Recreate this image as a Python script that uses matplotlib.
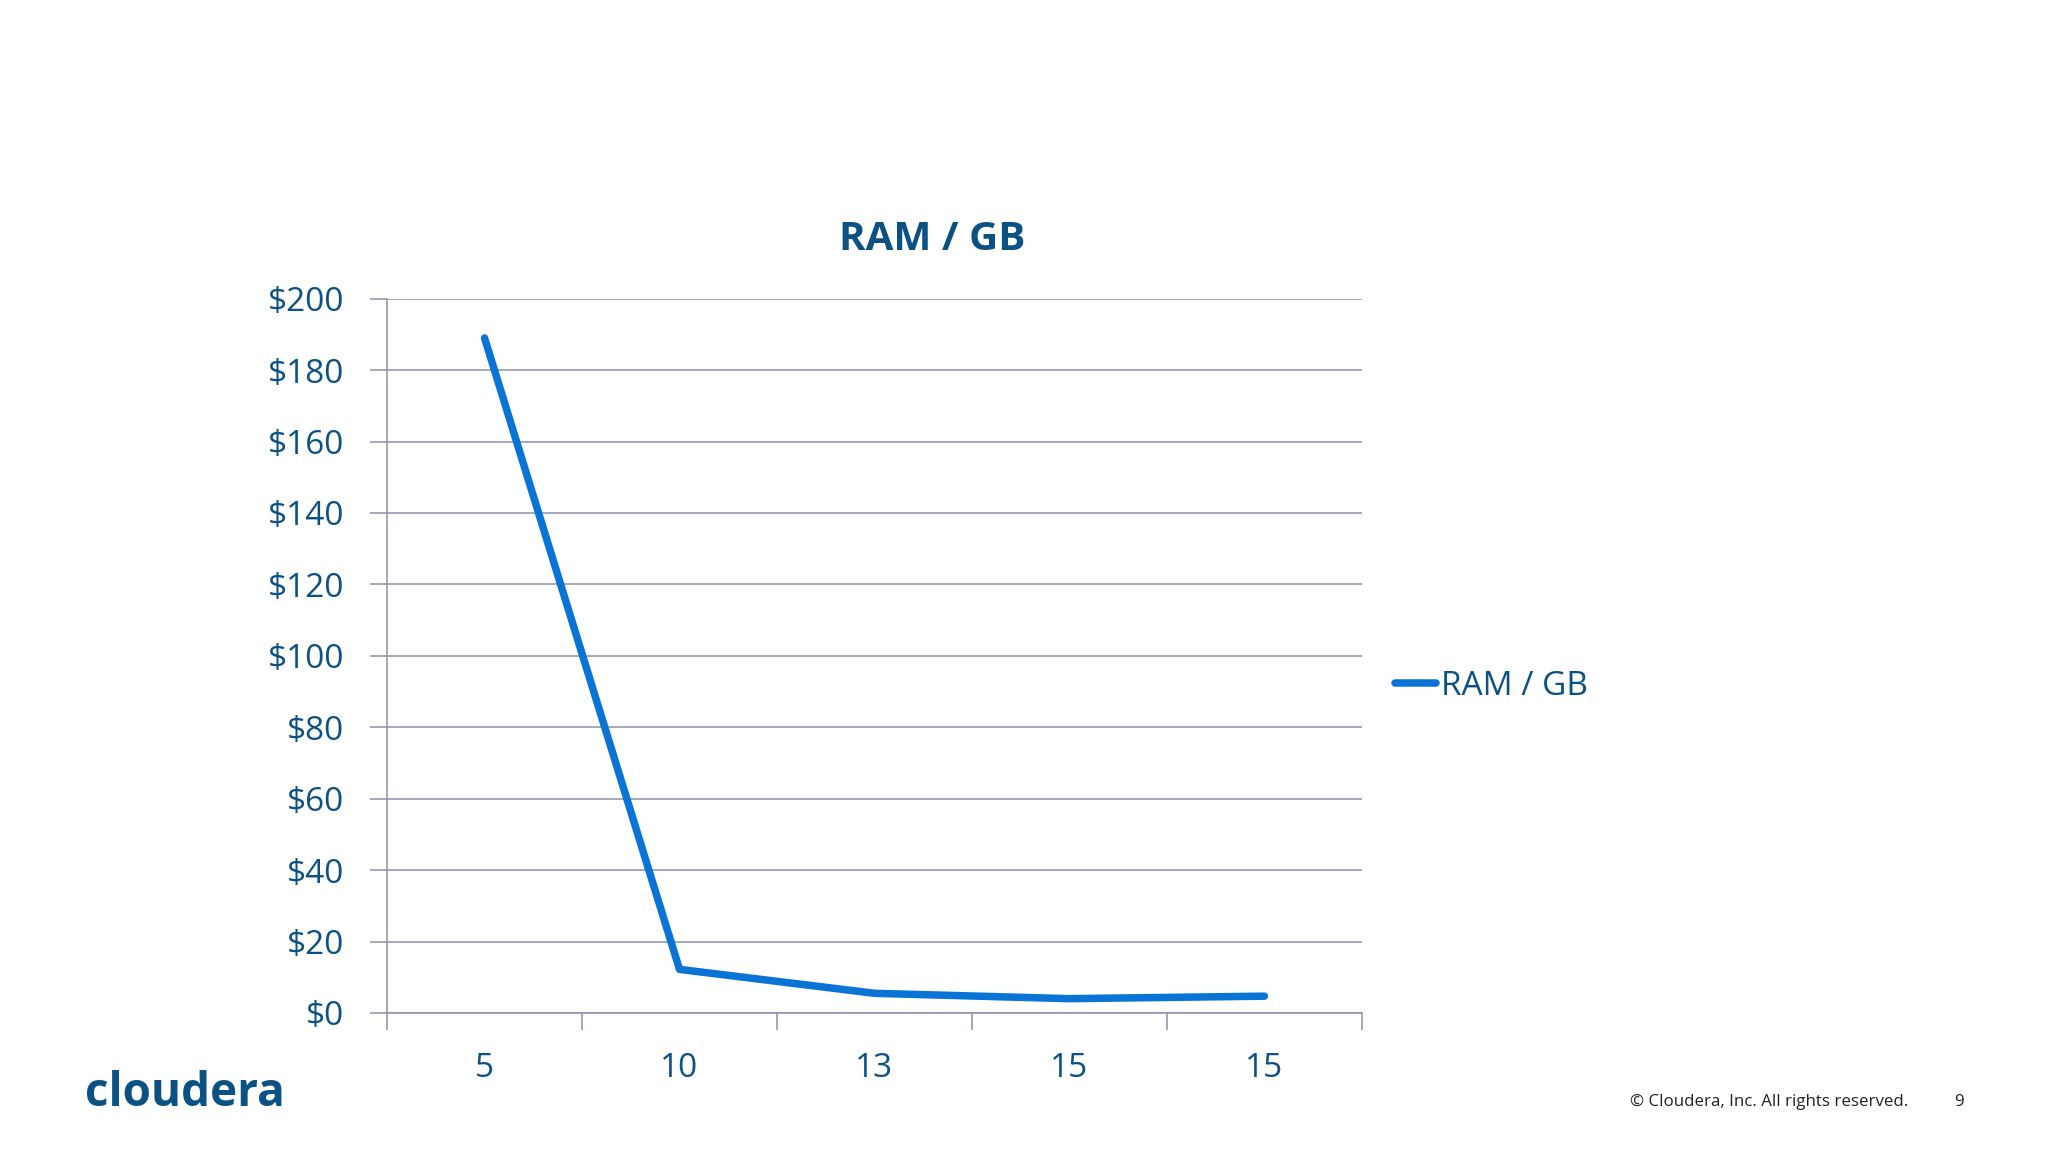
import matplotlib
matplotlib.use('Agg')
import matplotlib.pyplot as plt

categories = ['5', '10', '13', '15', '15']
ram_per_gb = [189, 12.2, 5.5, 4.0, 4.7]
y_ticks = [0, 20, 40, 60, 80, 100, 120, 140, 160, 180, 200]

dark_blue = '#0b5184'
line_blue = '#0a74d6'
grid_col = '#8e8eab'

plt.rcParams['font.family'] = ['Open Sans', 'DejaVu Sans']

fig = plt.figure(figsize=(20.48, 11.52), dpi=100)
fig.patch.set_facecolor('white')
ax = fig.add_axes([0.189, 0.1207, 0.476, 0.620])

x = list(range(len(categories)))
ax.plot(x, ram_per_gb, color=line_blue, lw=5.4, solid_capstyle='round',
        solid_joinstyle='round', label='RAM / GB', zorder=3)

ax.set_ylim(0, 200)
ax.set_xlim(-0.5, len(categories) - 0.5)
ax.set_yticks(y_ticks)
ax.set_yticklabels([f'${v}' for v in y_ticks])
ax.yaxis.grid(True, color=grid_col, lw=1.1)
ax.set_axisbelow(True)

# category boundaries get the tick marks, labels sit in the middle
ax.set_xticks([i - 0.5 for i in range(len(categories) + 1)])
ax.set_xticklabels([])
ax.set_xticks(x, minor=True)
ax.set_xticklabels(categories, minor=True)
ax.tick_params(axis='x', which='major', length=12, width=1.1, color=grid_col)
ax.tick_params(axis='x', which='minor', length=0, pad=28, labelsize=24,
               labelcolor=dark_blue)
ax.tick_params(axis='y', length=12, width=1.1, color=grid_col, pad=19,
               labelsize=24, labelcolor=dark_blue)

for s in ['top', 'right']:
    ax.spines[s].set_visible(False)
for s in ['left', 'bottom']:
    ax.spines[s].set_color(grid_col)
    ax.spines[s].set_linewidth(1.1)

fig.text(0.455, 1 - 239 / 1152, 'RAM / GB', ha='center', va='center',
         fontsize=29, fontweight='bold', color=dark_blue)

ax.legend(loc='center left', bbox_to_anchor=(0.681, 0.404),
          bbox_transform=fig.transFigure, frameon=False, fontsize=24,
          handlelength=1.25, handletextpad=0.15, borderpad=0,
          borderaxespad=0, labelcolor=dark_blue)

fig.text(0.0415, 1 - 1094 / 1152, 'cloudera', ha='left', va='center',
         fontsize=33, fontweight='bold', color=dark_blue)
fig.text(0.796, 1 - 1102 / 1152, '\u00a9 Cloudera, Inc. All rights reserved.',
         ha='left', va='center', fontsize=12.2, color='#222222')
fig.text(0.954, 1 - 1102 / 1152, '9', ha='left', va='center',
         fontsize=12.2, color='#222222')

fig.savefig('out.png', dpi=100, facecolor='white')
